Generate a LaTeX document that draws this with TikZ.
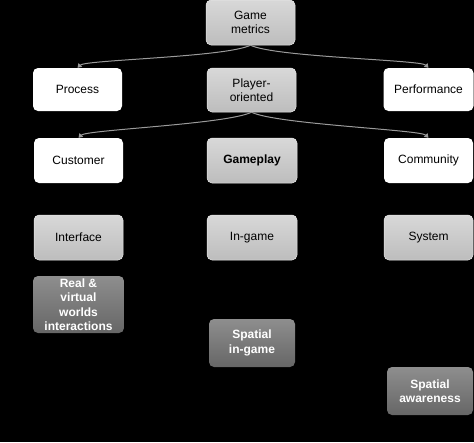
\documentclass[tikz,border=0pt]{standalone}
\usepackage{fontspec}
\setmainfont{Liberation Sans}
\usetikzlibrary{arrows.meta}
\definecolor{lighttop}{HTML}{D8D8D8}
\definecolor{lightbot}{HTML}{BDBDBD}
\definecolor{darktop}{HTML}{8E8E8E}
\definecolor{darkbot}{HTML}{666666}
\definecolor{arrowgrey}{HTML}{9A9A9A}
\tikzset{
  box/.style={rounded corners=5pt, align=center, inner sep=0pt, font=\fontsize{12}{14.5}\selectfont},
  whitebox/.style={box, fill=white, text=black},
  lightbox/.style={box, top color=lighttop, bottom color=lightbot, draw=lighttop!60!white, line width=0.5pt, text=black},
  darkbox/.style={box, top color=darktop, bottom color=darkbot, text=white, font=\fontsize{12}{14.5}\selectfont\bfseries},
  conn/.style={draw=arrowgrey, line width=1pt, -{Triangle[width=5pt,length=4pt]}}
}
\begin{document}
\begin{tikzpicture}[x=1pt,y=-1pt]
\fill[black] (0,0) rectangle (474,442);
\useasboundingbox (0,0) rectangle (474,442);
% row 1
\node[lightbox, minimum width=89pt, minimum height=45pt] (gm) at (250.5,22.5) {Game\\metrics};
% row 2
\node[whitebox, minimum width=89pt, minimum height=43pt] (proc) at (77.5,89.5) {Process};
\node[lightbox, minimum width=89pt, minimum height=44pt] (po) at (251.5,90) {Player-\\oriented};
\node[whitebox, minimum width=90pt, minimum height=43pt] (perf) at (428.5,89.5) {Performance};
% row 3
\node[whitebox, minimum width=89pt, minimum height=45pt] (cust) at (78.5,160.5) {Customer};
\node[lightbox, minimum width=90pt, minimum height=45pt, font=\fontsize{12}{14.5}\selectfont\bfseries] (gp) at (252,160.5) {Gameplay};
\node[whitebox, minimum width=89pt, minimum height=45pt] (comm) at (428.5,160.5) {Community};
% row 4
\node[lightbox, minimum width=89pt, minimum height=45pt] (intf) at (78.5,237.5) {Interface};
\node[lightbox, minimum width=90pt, minimum height=45pt] (ing) at (252,237.5) {In-game};
\node[lightbox, minimum width=89pt, minimum height=45pt] (sys) at (428.5,237.5) {System};
% dark boxes
\node[darkbox, minimum width=91pt, minimum height=57pt] (rv) at (78.5,304.5) {Real \&\\virtual\\worlds\\interactions};
\node[darkbox, minimum width=86pt, minimum height=48pt] (sig) at (252,343) {Spatial\\in-game};
\node[darkbox, minimum width=86pt, minimum height=48pt] (sa) at (430,391) {Spatial\\awareness};
% connectors
\draw[conn] (gm.south) .. controls +(-25,12) and +(8,-8) .. (proc.north);
\draw[conn] (gm.south) .. controls +(25,12) and +(-8,-8) .. (perf.north);
\draw[conn] (po.south) .. controls +(-25,12) and +(8,-8) .. (cust.north);
\draw[conn] (po.south) .. controls +(25,12) and +(-8,-8) .. (comm.north);
\end{tikzpicture}
\end{document}
